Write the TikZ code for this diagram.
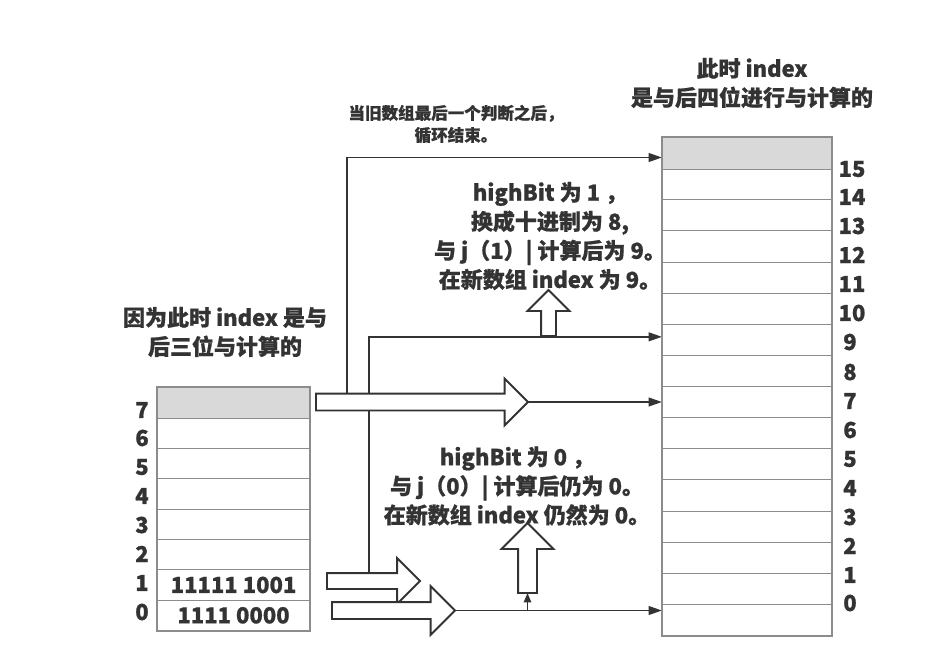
\documentclass[tikz,border=0pt]{standalone}
\usepackage{fontspec}
\setmainfont{Noto Sans CJK SC}[BoldFeatures={FakeBold=0.8}]
\usetikzlibrary{shapes.arrows,arrows.meta,calc}
\definecolor{ink}{HTML}{333333}
\definecolor{frame}{HTML}{8C8C8C}
\definecolor{cellgray}{HTML}{D9D9D9}
\pgfdeclarelayer{bg}
\pgfsetlayers{bg,main}
\begin{document}
\begin{tikzpicture}[x=0.75pt,y=-0.75pt,
  txt/.style={text=ink, font=\bfseries\fontsize{16.5pt}{21.8pt}\selectfont, align=center, inner sep=0pt},
  smalltxt/.style={text=ink, font=\bfseries\fontsize{12.4pt}{16.5pt}\selectfont, align=center, inner sep=0pt},
  numlbl/.style={text=ink, font=\bfseries\fontsize{16.5pt}{18pt}\selectfont, inner sep=0pt},
  rcell/.style={draw=frame, line width=0.8pt, minimum width=169*0.75pt, minimum height=31.125*0.75pt, anchor=north west, inner sep=0pt},
  lcell/.style={draw=frame, line width=0.8pt, minimum width=152*0.75pt, minimum height=30.375*0.75pt, anchor=north west, inner sep=0pt, text=ink, font=\bfseries\fontsize{16.5pt}{18pt}\selectfont},
  outerframe/.style={draw=frame, line width=1.5pt},
  conn/.style={draw=ink, line width=1.4pt, -{Triangle[length=10pt,width=6.5pt]}},
  shortconn/.style={draw=ink, line width=1.2pt, -{Triangle[length=7pt,width=5.5pt]}},
  hollow/.style={single arrow, draw=ink, fill=white, line width=1.4pt, inner xsep=0pt, text height=0pt, text depth=0pt, minimum width=0pt, outer sep=0pt}
]
\useasboundingbox (0,0) rectangle (931,667);

% right array (16 cells)
\foreach \i in {0,...,15} {
  \node[rcell] (R\i) at (662, {137+(15-\i)*31.125}) {};
}
\fill[cellgray] (R15.north west) rectangle (R15.south east);
\draw[frame, line width=0.8pt] (R15.south west) -- (R15.south east);
\draw[outerframe] (R15.north west) rectangle (R0.south east);

% left array (8 cells)
\foreach \i in {2,...,7} {
  \node[lcell] (L\i) at (157, {387+(7-\i)*30.375}) {};
}
\node[lcell] (L1) at (157, {387+6*30.375}) {11111 1001};
\node[lcell] (L0) at (157, {387+7*30.375}) {1111 0000};
\fill[cellgray] (L7.north west) rectangle (L7.south east);
\draw[frame, line width=0.8pt] (L7.south west) -- (L7.south east);
\draw[outerframe] (L7.north west) rectangle (L0.south east);

% right labels
\node[numlbl] (n15) at (852,169) {15};
\node[numlbl] (n14) at (852,197) {14};
\node[numlbl] (n13) at (852,226) {13};
\node[numlbl] (n12) at (852,255) {12};
\node[numlbl] (n11) at (852,284) {11};
\node[numlbl] (n10) at (852,313) {10};
\node[numlbl] (n9) at (850,342) {9};
\node[numlbl] (n8) at (850,372) {8};
\node[numlbl] (n7) at (850,401) {7};
\node[numlbl] (n6) at (850,430) {6};
\node[numlbl] (n5) at (850,459) {5};
\node[numlbl] (n4) at (850,488) {4};
\node[numlbl] (n3) at (850,517) {3};
\node[numlbl] (n2) at (850,546) {2};
\node[numlbl] (n1) at (850,575) {1};
\node[numlbl] (n0) at (850,603) {0};

% left labels
\node[numlbl] (m7) at (142,410) {7};
\node[numlbl] (m6) at (142,438) {6};
\node[numlbl] (m5) at (142,467) {5};
\node[numlbl] (m4) at (142,496) {4};
\node[numlbl] (m3) at (142,525) {3};
\node[numlbl] (m2) at (142,554) {2};
\node[numlbl] (m1) at (142,583) {1};
\node[numlbl] (m0) at (142,612) {0};

% hollow arrows
\node[hollow, inner ysep=5.625pt, single arrow head extend=11.25pt, minimum height=159pt, anchor=tail] (A1) at (316,402) {};
\node[hollow, inner ysep=5.25pt, single arrow head extend=11.25pt, minimum height=69.75pt, anchor=tail] (A2) at (327,581) {};
\node[hollow, inner ysep=5.625pt, single arrow head extend=12pt, minimum height=92.25pt, anchor=tail] (A3) at (332,610.5) {};
\node[hollow, rotate=90, inner ysep=4.875pt, single arrow head extend=10.125pt, minimum height=34.5pt, anchor=tail] (UA) at (548.5,336) {};
\node[hollow, rotate=90, inner ysep=6.375pt, single arrow head extend=12.375pt, minimum height=52.5pt, anchor=tail] (UB) at (527.5,593) {};

% connectors
\coordinate (s1) at (347,394);
\coordinate (s2) at (369,574);
\begin{pgfonlayer}{bg}
\draw[conn] (s1) |- ($(R15.west)+(0,4.4)$);
\draw[conn] (s2) |- ($(R9.west)+(0,-3)$);
\draw[conn] (A1.tip) -- (A1.tip -| R7.west);
\draw[conn] (A3.tip) -- (A3.tip -| R0.west);
\end{pgfonlayer}
\draw[shortconn] (A3.tip -| UB.tail) -- (UB.tail);

% texts
\node[txt] (titleR) at (752,83) {此时 index\\是与后四位进行与计算的};
\node[smalltxt] (note) at (456,124) {当旧数组最后一个判断之后，\\循环结束。};
\node[txt] (titleL) at (225,332) {因为此时 index 是与\\后三位与计算的};
\node[txt] (hb1) at (550,236) {highBit 为 1 ，\\换成十进制为 8,\\与 j（1）| 计算后为 9。\\在新数组 index 为 9。};
\node[txt] (hb0) at (517,486) {highBit 为 0 ，\\与 j（0）| 计算后仍为 0。\\在新数组 index 仍然为 0。};
\end{tikzpicture}
\end{document}
